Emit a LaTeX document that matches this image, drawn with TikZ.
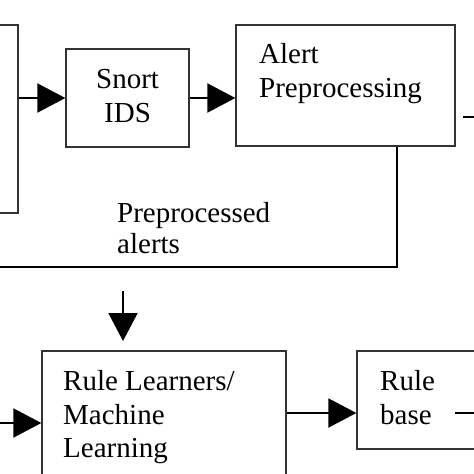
\documentclass[tikz,border=0pt]{standalone}
\usepackage{fontspec}
\setmainfont{Liberation Serif}
\usetikzlibrary{arrows.meta}
\begin{document}
\begin{tikzpicture}[x=1pt,y=-1pt,
  box/.style={draw=black!80,line width=1.3pt,rectangle,inner sep=0pt},
  lbl/.style={anchor=base west,inner sep=0pt,font=\fontsize{29}{33}\selectfont},
  conn/.style={line width=2pt,black},
  arr/.style={conn,-{Triangle[length=28pt,width=29pt]}}]
\useasboundingbox (0,0) rectangle (474,474);
% boxes
\node[box,minimum width=118pt,minimum height=188pt] (src) at (-41,119) {};
\node[box,minimum width=123pt,minimum height=98pt] (snort) at (127.5,98) {};
\node[box,minimum width=219pt,minimum height=121pt] (alert) at (345.5,85.5) {};
\node[box,minimum width=244pt,minimum height=169pt] (rl) at (164,435.5) {};
\node[box,minimum width=163pt,minimum height=98pt] (rb) at (438.5,400) {};
% texts
\node[lbl] (t1) at (96,88) {Snort};
\node[lbl] (t2) at (104,122) {IDS};
\node[lbl] (t3) at (259,63) {Alert};
\node[lbl] (t4) at (259,97) {Preprocessing};
\node[lbl] (t5) at (117,222) {Preprocessed};
\node[lbl] (t6) at (117,253) {alerts};
\node[lbl] (t7) at (63,390) {Rule Learners/};
\node[lbl] (t8) at (63,424) {Machine};
\node[lbl] (t9) at (63,457) {Learning};
\node[lbl] (t10) at (380,390) {Rule};
\node[lbl] (t11) at (380,424) {base};
% connectors
\draw[arr] (src.east |- snort.west) -- (snort.west);
\draw[arr] (snort.east) -- (alert.west |- snort.east);
\coordinate (c1) at (397,267);
\coordinate (c2) at (-10,267);
\draw[conn] (alert.south -| c1) -- (c1) -- (c2);
\coordinate (d1) at (123,291);
\coordinate (d2) at (123,341);
\draw[arr] (d1) -- (d2);
\coordinate (e1) at (-10,423);
\draw[arr] (e1) -- (rl.west |- e1);
\coordinate (f1) at (286,413);
\draw[arr] (rl.east |- f1) -- (rb.west |- f1);
\coordinate (g1) at (463,117);
\coordinate (g2) at (480,117);
\draw[conn] (g1) -- (g2);
\coordinate (h1) at (455,413);
\coordinate (h2) at (480,413);
\draw[conn] (h1) -- (h2);
\end{tikzpicture}
\end{document}
